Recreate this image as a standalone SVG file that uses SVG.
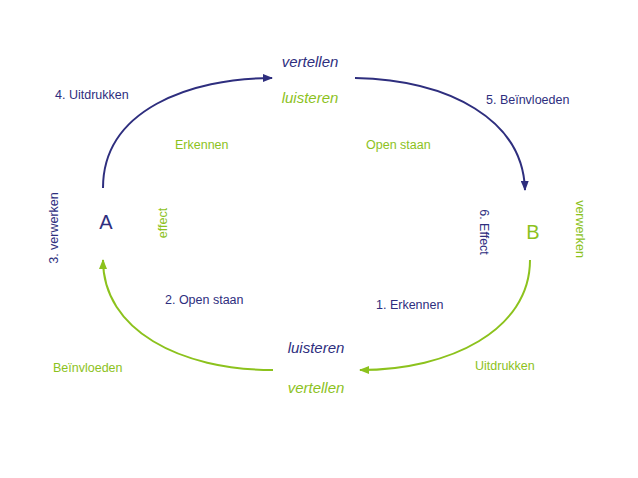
<svg xmlns="http://www.w3.org/2000/svg" width="638" height="478" viewBox="0 0 638 478">
<style>
text{font-family:"Liberation Sans",Arial,sans-serif;font-size:12.5px}
.b{fill:#2e2e7e}.g{fill:#8cc21d}
.it{font-style:italic;font-size:15px}
.big{font-size:20px}
.lb{stroke:#2e2e7e;stroke-width:2;fill:none}
.lg{stroke:#8cc21d;stroke-width:2;fill:none}
</style>
<defs>
<marker id="ab" markerWidth="10" markerHeight="8" refX="9" refY="4" orient="auto" markerUnits="userSpaceOnUse"><path d="M0,0L10,4L0,8z" fill="#2e2e7e"/></marker>
<marker id="ag" markerWidth="10" markerHeight="8" refX="9" refY="4" orient="auto" markerUnits="userSpaceOnUse"><path d="M0,0L10,4L0,8z" fill="#8cc21d"/></marker>
</defs>
<rect width="638" height="478" fill="#fff"/>
<g id="connectors">
<path class="lb" d="M103,188 C103,110 190,78 272,78" marker-end="url(#ab)"/>
<path class="lb" d="M355,78 C450,80 523,120 525,190" marker-end="url(#ab)"/>
<path class="lg" d="M530,260 C530,330 450,370 360,370" marker-end="url(#ag)"/>
<path class="lg" d="M273,370 C180,370 103,330 103,260" marker-end="url(#ag)"/>
</g>
<g id="A"><text class="b big" x="106" y="229" text-anchor="middle">A</text></g>
<g id="B"><text class="g big" x="533" y="239" text-anchor="middle">B</text></g>
<g id="labels">
<text class="b it" x="310" y="67" text-anchor="middle">vertellen</text>
<text class="g it" x="310" y="103" text-anchor="middle">luisteren</text>
<text class="b" x="55" y="99">4. Uitdrukken</text>
<text class="b" x="486" y="104">5. Beïnvloeden</text>
<text class="g" x="175" y="149">Erkennen</text>
<text class="g" x="366" y="149">Open staan</text>
<text class="b" transform="translate(58,228) rotate(-90)" text-anchor="middle">3. verwerken</text>
<text class="g" transform="translate(167,223) rotate(-90)" text-anchor="middle">effect</text>
<text class="b" transform="translate(480,232) rotate(90)" text-anchor="middle">6. Effect</text>
<text class="g" transform="translate(576,229) rotate(90)" text-anchor="middle">verwerken</text>
<text class="b" x="165" y="304">2. Open staan</text>
<text class="b" x="376" y="309">1. Erkennen</text>
<text class="b it" x="316" y="353" text-anchor="middle">luisteren</text>
<text class="g it" x="316" y="393" text-anchor="middle">vertellen</text>
<text class="g" x="53" y="372">Beïnvloeden</text>
<text class="g" x="475" y="370">Uitdrukken</text>
</g>
</svg>
